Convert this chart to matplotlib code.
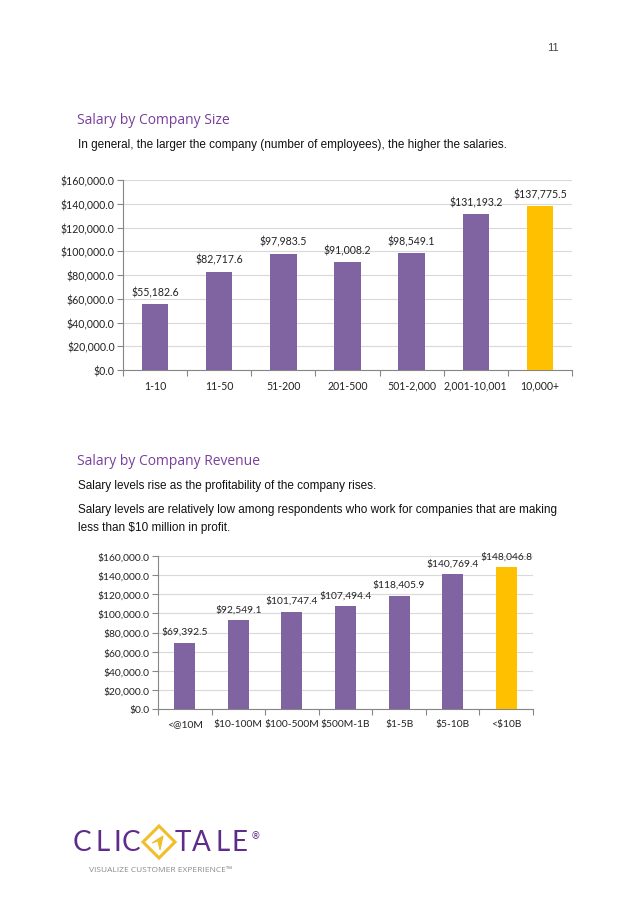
import matplotlib
matplotlib.use("Agg")
import matplotlib.pyplot as plt
from matplotlib.patches import Polygon
from matplotlib.ticker import FuncFormatter, FixedLocator

# ---------------- data ----------------
size_categories = ["1-10", "11-50", "51-200", "201-500", "501-2,000", "2,001-10,001", "10,000+"]
size_salaries = [55182.6, 82717.6, 97983.5, 91008.2, 98549.1, 131193.2, 137775.5]

revenue_categories = ["<@10M", "$10-100M", "$100-500M", "$500M-1B", "$1-5B", "$5-10B", "<$10B"]
revenue_salaries = [69392.5, 92549.1, 101747.4, 107494.4, 118405.9, 140769.4, 148046.8]

y_ticks = [0, 20000, 40000, 60000, 80000, 100000, 120000, 140000, 160000]

# ---------------- style ----------------
PURPLE = "#8064A2"
GOLD = "#FFC000"
HEAD = "#7A3E9D"
AXIS = "#868686"
GRID = "#D9D9D9"
LABEL_FONT = ["Lato", "DejaVu Sans"]
BODY_FONT = ["Liberation Sans", "DejaVu Sans"]

W, H = 638, 903
fig = plt.figure(figsize=(W / 100, H / 100), dpi=100)
fig.patch.set_facecolor("white")

# page overlay in pixel coordinates
page = fig.add_axes([0, 0, 1, 1])
page.set_xlim(0, W)
page.set_ylim(H, 0)
page.axis("off")


def money(v, _pos=None):
    return "${:,.1f}".format(v)


def bar_chart(rect, cats, vals, width, fs):
    ax = fig.add_axes(rect)
    x = list(range(len(cats)))
    colors = [PURPLE] * (len(vals) - 1) + [GOLD]
    ax.bar(x, vals, width=width, color=colors, zorder=3)
    ax.set_xlim(-0.5, len(cats) - 0.5)
    ax.set_ylim(0, 160000)
    ax.yaxis.set_major_locator(FixedLocator(y_ticks))
    ax.yaxis.set_major_formatter(FuncFormatter(money))
    ax.grid(axis="y", color=GRID, linewidth=0.8, zorder=0)
    ax.set_axisbelow(True)
    for s in ("top", "right"):
        ax.spines[s].set_visible(False)
    for s in ("left", "bottom"):
        ax.spines[s].set_color(AXIS)
        ax.spines[s].set_linewidth(0.8)
    ax.set_xticks(x)
    ax.set_xticklabels(cats)
    ax.xaxis.set_minor_locator(FixedLocator([i - 0.5 for i in range(len(cats) + 1)]))
    ax.tick_params(axis="x", which="major", length=0, pad=7, labelsize=fs, labelcolor="#222222")
    ax.tick_params(axis="x", which="minor", length=4, color=AXIS, width=0.8)
    ax.tick_params(axis="y", which="major", length=4, color=AXIS, width=0.8, pad=2,
                   labelsize=fs, labelcolor="#222222")
    for lab in ax.get_xticklabels() + ax.get_yticklabels():
        lab.set_family(LABEL_FONT)
    for xi, v in zip(x, vals):
        ax.annotate(money(v), (xi, v), xytext=(0, 5), textcoords="offset points",
                    ha="center", va="bottom", fontsize=fs, family=LABEL_FONT, color="#222222")
    return ax


# chart 1 : pixel box left 123, right 572, top 181, bottom 371
bar_chart([123 / W, 1 - 371 / H, (572 - 123) / W, (371 - 181) / H],
          size_categories, size_salaries, 0.41, 7.6)
# chart 2 : pixel box left 158, right 533, top 557, bottom 710
bar_chart([158 / W, 1 - 710 / H, (533 - 158) / W, (710 - 557) / H],
          revenue_categories, revenue_salaries, 0.39, 7.4)

# ---------------- page text ----------------
page.text(553, 48, "11", ha="center", va="center", fontsize=8, color="#444444", family=BODY_FONT)

page.text(77, 121, "Salary by Company Size", ha="left", va="center", fontsize=10,
          color=HEAD, family=["Open Sans", "DejaVu Sans"])
page.text(78, 145, "In general, the larger the company (number of employees), the higher the salaries.",
          ha="left", va="center", fontsize=8.5, color="#111111", family=BODY_FONT)

page.text(77, 462, "Salary by Company Revenue", ha="left", va="center", fontsize=10,
          color=HEAD, family=["Open Sans", "DejaVu Sans"])
page.text(78, 486, "Salary levels rise as the profitability of the company rises.",
          ha="left", va="center", fontsize=8.5, color="#111111", family=BODY_FONT)
page.text(78, 510, "Salary levels are relatively low among respondents who work for companies that are making",
          ha="left", va="center", fontsize=8.5, color="#111111", family=BODY_FONT)
page.text(78, 528, "less than $10 million in profit.",
          ha="left", va="center", fontsize=8.5, color="#111111", family=BODY_FONT)

# ---------------- logo ----------------
LOGO_PURPLE = "#5E2D8C"
LOGO_GOLD = "#F0BE2A"
logo_letters = [("C", 73), ("L", 96), ("I", 114), ("C", 122),
                ("T", 175), ("A", 192), ("L", 215), ("E", 231)]
for ch, lx in logo_letters:
    page.text(lx, 843, ch, ha="left", va="center", fontsize=20, color=LOGO_PURPLE,
              family=["Lato", "DejaVu Sans"], fontweight="normal")
page.text(255, 836, "®", ha="center", va="center", fontsize=7, color=LOGO_PURPLE,
          family=["DejaVu Sans"])
cx, cy, r = 159, 843, 16
page.add_patch(Polygon([(cx, cy - r), (cx + r, cy), (cx, cy + r), (cx - r, cy)], closed=True,
                       fill=False, edgecolor=LOGO_GOLD, linewidth=2.2, joinstyle="miter"))
page.add_patch(Polygon([(cx - 7, cy + 1), (cx + 4, cy - 6), (cx + 1, cy + 8), (cx - 1, cy - 1)],
                       closed=True, facecolor=LOGO_GOLD, edgecolor=LOGO_GOLD, linewidth=0.8))
page.text(89, 871, "VISUALIZE CUSTOMER EXPERIENCE™", ha="left", va="center", fontsize=6,
          color="#8A8A8A", family=["Open Sans", "DejaVu Sans"])

fig.savefig("out.png", dpi=100, facecolor="white")
